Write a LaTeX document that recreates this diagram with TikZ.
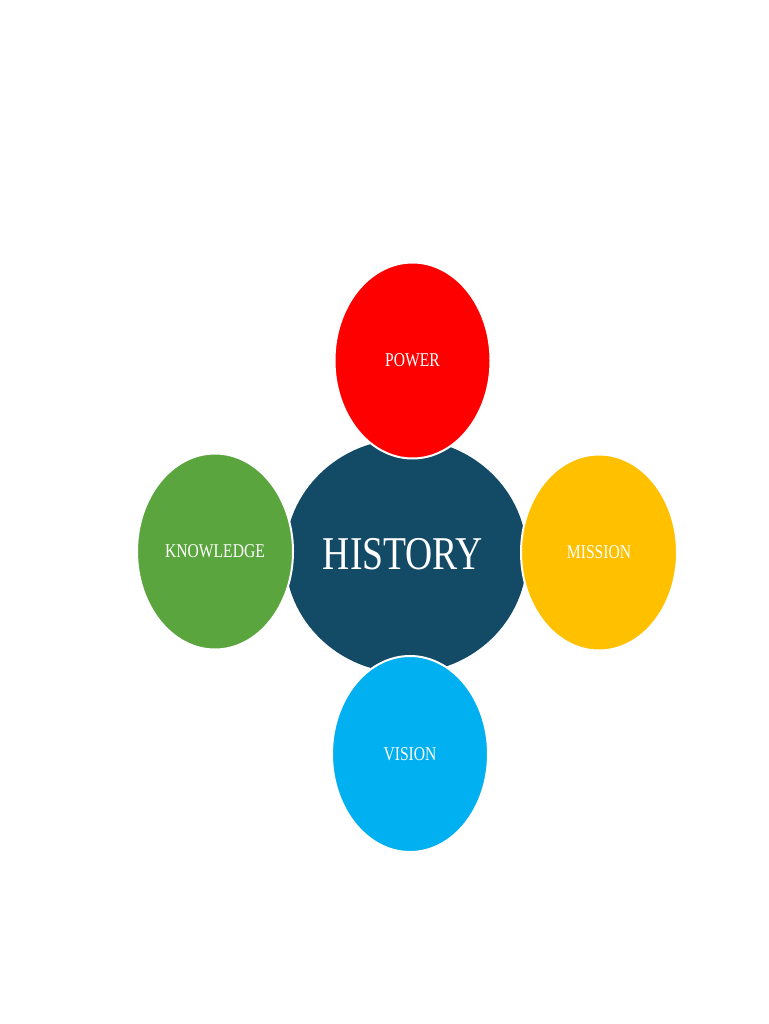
\documentclass[tikz,border=0pt]{standalone}
\usepackage{fontspec}
\setmainfont{Liberation Serif}[FakeStretch=0.8]
\usetikzlibrary{shapes.geometric}
\definecolor{hist}{HTML}{134A66}
\definecolor{pow}{HTML}{FF0000}
\definecolor{know}{HTML}{5AA53D}
\definecolor{miss}{HTML}{FFC000}
\definecolor{vis}{HTML}{00B0F0}
\tikzset{
  core/.style={ellipse, fill=hist, minimum width=242pt, minimum height=234pt, inner sep=0pt, text=white, font=\fontsize{47}{50}\selectfont},
  petal/.style={ellipse, draw=white, line width=2pt, minimum width=156pt, minimum height=196pt, inner sep=0pt, text=white, font=\fontsize{19.5}{22}\selectfont}
}
\begin{document}
\begin{tikzpicture}[x=1pt,y=-1pt]
\useasboundingbox (0,0) rectangle (768,1024);
\fill[white] (0,0) rectangle (768,1024);
\node[core] (history) at (406,556) {};
\node[petal, fill=pow] (power) at (412.5,360.5) {POWER};
\node[petal, fill=know] (knowledge) at (215,551.5) {KNOWLEDGE};
\node[petal, fill=miss] (mission) at (599,552.5) {MISSION};
\node[petal, fill=vis] (vision) at (410,754) {VISION};
\node[text=white, font=\fontsize{47}{50}\selectfont] (htext) at (403,554) {HISTORY};
\end{tikzpicture}
\end{document}
